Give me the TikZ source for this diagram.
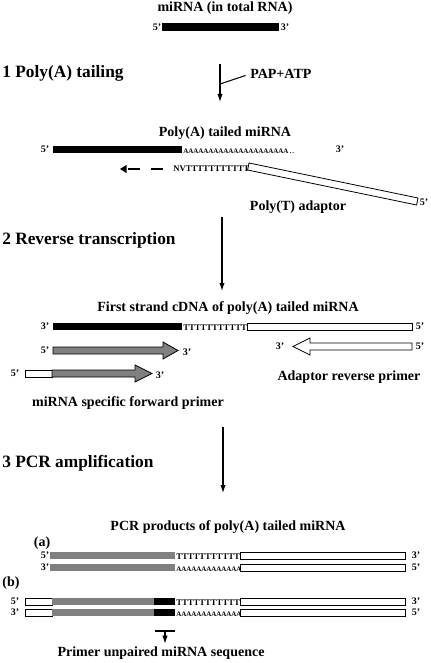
\documentclass[tikz,border=0pt]{standalone}
\usepackage{fontspec}
\setmainfont{Liberation Serif}
\usetikzlibrary{arrows.meta}

\begin{document}
\begin{tikzpicture}[x=0.75pt,y=-0.75pt,
  title/.style={font=\bfseries\fontsize{10.5}{12}\selectfont,inner sep=0pt},
  stepname/.style={font=\bfseries\fontsize{13}{15}\selectfont,inner sep=0pt,anchor=west},
  prime/.style={font=\bfseries\fontsize{7.5}{8}\selectfont,inner sep=0pt},
  tailA/.style={font=\bfseries\fontsize{5.2}{6}\selectfont,inner sep=0pt,anchor=south west},
  tailT/.style={font=\bfseries\fontsize{6.5}{7}\selectfont,inner sep=0pt,anchor=south west},
  flow/.style={line width=0.8pt,-{Latex[length=6pt,width=4pt]}},
  box/.style={draw=black,fill=white,line width=0.6pt},
  gray/.style={fill=black!50},
]
\useasboundingbox (0,0) rectangle (430,663);

% miRNA
\node[title] (mirna) at (225,8) {miRNA (in total RNA)};
\fill (162,23) rectangle (279,31);
\node[prime] (m5) at (157,27) {5'};
\node[prime] (m3) at (285,27) {3'};

% 1 Poly(A) tailing
\node[stepname] (step1) at (2,73) {1 Poly(A) tailing};
\coordinate (s1a) at (220,64);
\coordinate (s1b) at (220,102);
\draw[flow] (s1a) -- (s1b);
\coordinate (pap) at (220,84);
\node[title,anchor=west] (enz) at (250,74) {PAP+ATP};
\draw[line width=0.8pt,shorten >=3.5pt] (pap) -- (enz.west);

% Poly(A) tailed miRNA
\node[title] (tailed) at (225,133) {Poly(A) tailed miRNA};
\fill (53,146) rectangle (182,153);
\node[prime] at (45,149) {5'};
\node[tailA] (polyA) at (183,153.5) {AAAAAAAAAAAAAAAAAAAAA\,.\,.};
\node[prime] at (340,149) {3'};

% Poly(T) adaptor
\node[tailT] (nvt) at (173,172) {NVTTTTTTTTTTTT};
\coordinate (ds) at (163,169);
\coordinate (de) at (120,169);
\draw[line width=2pt,dash pattern=on 9pt off 8pt,-{Triangle[length=5pt,width=6pt]}] (ds) -- (de);
\draw[box] (249,163) -- (418,198) -- (416.6,205) -- (247.6,170) -- cycle;
\node[prime] at (424,202) {5'};
\node[title] (adaptor) at (298,207) {Poly(T) adaptor};

% 2 Reverse transcription
\node[stepname] (step2) at (2,240) {2 Reverse transcription};
\coordinate (s2a) at (222,217);
\coordinate (s2b) at (222,291);
\draw[flow] (s2a) -- (s2b);

% first strand cDNA
\node[title] (cdna) at (228,308) {First strand cDNA of poly(A) tailed miRNA};
\fill (53,323) rectangle (182,330);
\node[tailT] at (183,330.5) {TTTTTTTTTTTT};
\draw[box] (247,323) rectangle (412,330);
\node[prime] at (45,326) {3'};
\node[prime] at (420,326) {5'};

% primers
\draw[gray,draw=black,line width=0.6pt] (53,347) -- (163,347) -- (163,342) -- (178,350.5)
  -- (163,359) -- (163,354) -- (53,354) -- cycle;
\node[prime] at (45,350) {5'};
\node[prime] at (187,352) {3'};
\draw[box] (25,370) rectangle (52,377);
\draw[gray,draw=black,line width=0.6pt] (52,370) -- (135,370) -- (135,365) -- (152,373.5)
  -- (135,382) -- (135,377) -- (52,377) -- cycle;
\node[prime] at (15,373) {5'};
\node[prime] at (160,375) {3'};
\draw[box] (412,343) -- (310,343) -- (310,338) -- (293,346.5) -- (310,355)
  -- (310,350) -- (412,350) -- cycle;
\node[prime] at (280,346) {3'};
\node[prime] at (420,346) {5'};
\node[title] (revp) at (349,377) {Adaptor reverse primer};
\node[title] (fwdp) at (128,403) {miRNA specific forward primer};

% 3 PCR amplification
\node[stepname] (step3) at (2,463) {3 PCR amplification};
\coordinate (s3a) at (223,427);
\coordinate (s3b) at (223,493);
\draw[flow] (s3a) -- (s3b);

% PCR products
\node[title] (pcr) at (228,527) {PCR products of poly(A) tailed miRNA};
\node[title] (ra) at (42,543) {(a)};
\fill[gray] (50,552) rectangle (175,559);
\node[tailT] at (176,559.5) {TTTTTTTTTTTT};
\draw[box] (240,552) rectangle (405,559);
\node[prime] at (45,555) {5'};
\node[prime] at (416,555) {3'};
\fill[gray] (50,564) rectangle (175,571);
\node[tailA] at (176,571.5) {AAAAAAAAAAAAA};
\draw[box] (240,564) rectangle (405,571);
\node[prime] at (45,567) {3'};
\node[prime] at (416,567) {5'};

\node[title] (rb) at (11,583) {(b)};
\draw[box] (25,598) rectangle (52,605);
\fill[gray] (52,598) rectangle (154,605);
\fill (154,598) rectangle (175,605);
\node[tailT] at (176,605.5) {TTTTTTTTTTTT};
\draw[box] (240,598) rectangle (405,605);
\node[prime] at (15,601) {5'};
\node[prime] at (416,601) {3'};
\draw[box] (25,609) rectangle (52,616);
\fill[gray] (52,609) rectangle (154,616);
\fill (154,609) rectangle (175,616);
\node[tailA] at (176,616.5) {AAAAAAAAAAAAA};
\draw[box] (240,609) rectangle (405,616);
\node[prime] at (15,612) {3'};
\node[prime] at (416,612) {5'};

% unpaired part
\coordinate (ul) at (155,631);
\coordinate (ur) at (175,631);
\coordinate (um) at (165,631);
\node[title] (unp) at (161,653) {Primer unpaired miRNA sequence};
\draw[line width=0.8pt] (ul) -- (ur);
\draw[flow,shorten >=2pt] (um) -- (um |- unp.north);

\end{tikzpicture}
\end{document}
